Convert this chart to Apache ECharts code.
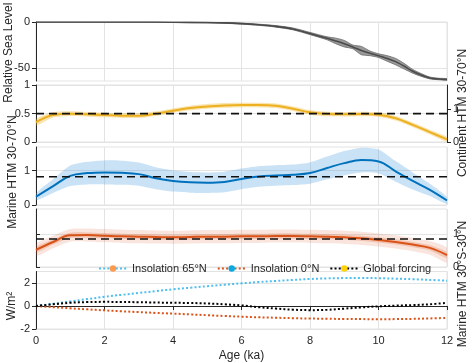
<!DOCTYPE html>
<html><head><meta charset="utf-8">
<script src="https://cdn.jsdelivr.net/npm/echarts@6/dist/echarts.min.js"></script>
<style>html,body{margin:0;padding:0;background:#fff}#c{width:474px;height:363px}</style>
</head><body><div id="c"></div>
<script>
// ---- data ----
const xTicks = [0, 2, 4, 6, 8, 10, 12];
const seaTicks = [-50, 0];
const contLeftTicks = [0, 0.5, 1];
const contTicks = [0, 1];
const marNTicks = [0, 1];
const marTTicks = [0, 1];
const forceTicks = [-2, 0, 2];

const seaAge = [0,1,2,3,4,5,5.5,6,6.5,7,7.5,8,8.5,8.75,9,9.25,9.5,9.75,10,10.25,10.5,10.75,11,11.25,11.5,11.75,12];
const seaLevel = [0,0,0,0,-0.2,-0.6,-1,-1.8,-3,-4.7,-7.5,-12.5,-17.7,-20.5,-23.5,-27,-31,-34,-36.5,-39.5,-43,-48,-53.5,-57.5,-60.7,-61.8,-62.3];
const seaUpper = [0.3,0.3,0.3,0.3,0.1,-0.2,-0.6,-1.3,-2.4,-3.9,-6.5,-11.3,-16.1,-17.5,-20,-25,-26.5,-31.5,-34.5,-36.5,-39.5,-45,-51.5,-56,-59.7,-61,-61.5];
const seaLower = [-0.3,-0.3,-0.3,-0.3,-0.5,-1,-1.4,-2.3,-3.6,-5.5,-8.5,-13.7,-19.3,-23.5,-27,-29,-35.5,-36.5,-38.5,-42.5,-46.5,-51,-55.5,-59,-61.7,-62.6,-63.1];

const age = [0,0.5,1,1.5,2,2.5,3,3.5,4,4.5,5,5.5,6,6.5,7,7.5,8,8.5,9,9.5,10,10.5,11,11.5,12];

const contHTM   = [0.6,0.82,0.86,0.84,0.82,0.8,0.8,0.86,0.95,1.03,1.08,1.11,1.12,1.12,1.1,1.01,0.9,0.85,0.84,0.85,0.83,0.72,0.52,0.3,0.08];
const contUpper = [0.7,0.9,0.93,0.91,0.89,0.87,0.87,0.93,1.02,1.1,1.15,1.18,1.19,1.19,1.17,1.08,0.97,0.92,0.91,0.92,0.9,0.79,0.59,0.37,0.15];
const contLower = [0.5,0.74,0.79,0.77,0.75,0.73,0.73,0.79,0.88,0.96,1.01,1.04,1.05,1.05,1.03,0.94,0.83,0.78,0.77,0.78,0.76,0.65,0.45,0.23,0.01];

const marN      = [0.24,0.55,0.85,0.93,0.95,0.94,0.9,0.78,0.7,0.66,0.65,0.67,0.76,0.83,0.86,0.88,0.93,1.08,1.22,1.31,1.27,0.98,0.7,0.44,0.13];
const marNUpper = [0.34,0.75,1.15,1.26,1.3,1.29,1.24,1.1,1.01,0.96,0.95,0.97,1.06,1.13,1.16,1.18,1.24,1.41,1.57,1.67,1.62,1.28,0.95,0.62,0.23];
const marNLower = [0.14,0.35,0.55,0.6,0.6,0.59,0.56,0.46,0.39,0.36,0.35,0.37,0.46,0.53,0.56,0.58,0.62,0.75,0.87,0.95,0.92,0.68,0.45,0.26,0.03];

const marT       = [0.52,0.76,0.96,0.97,0.95,0.93,0.92,0.91,0.9,0.91,0.92,0.92,0.93,0.93,0.94,0.94,0.93,0.92,0.9,0.87,0.82,0.76,0.68,0.58,0.36];
const marTIn_up  = [0.6,0.84,1.04,1.05,1.03,1.01,1.0,0.99,0.98,0.99,1.0,1.0,1.01,1.01,1.02,1.02,1.01,1.0,0.98,0.95,0.9,0.84,0.76,0.66,0.45];
const marTIn_lo  = [0.44,0.68,0.88,0.89,0.87,0.85,0.84,0.83,0.82,0.83,0.84,0.84,0.85,0.85,0.86,0.86,0.85,0.84,0.82,0.79,0.74,0.68,0.6,0.5,0.27];
const marTOut_up = [0.7,0.95,1.15,1.17,1.15,1.13,1.12,1.11,1.1,1.11,1.12,1.12,1.13,1.13,1.14,1.14,1.13,1.12,1.1,1.07,1.02,0.96,0.88,0.79,0.58];
const marTOut_lo = [0.34,0.57,0.77,0.77,0.75,0.73,0.72,0.71,0.7,0.71,0.72,0.72,0.73,0.73,0.74,0.74,0.73,0.72,0.7,0.67,0.62,0.56,0.48,0.37,0.14];

const refLevel = [0.86, 0.825, 0.85];  // dashed reference, continent / marine N / marine tropics

const ins65  = [0,0.2,0.4,0.6,0.8,0.97,1.13,1.3,1.45,1.59,1.72,1.85,1.97,2.08,2.18,2.27,2.35,2.4,2.43,2.44,2.42,2.38,2.33,2.27,2.2];
const ins0   = [0,-0.1,-0.2,-0.29,-0.38,-0.46,-0.53,-0.6,-0.66,-0.73,-0.8,-0.87,-0.93,-0.98,-1.02,-1.06,-1.09,-1.11,-1.13,-1.14,-1.15,-1.14,-1.12,-1.08,-1.04];
const globalF= [0,0.15,0.28,0.34,0.36,0.35,0.33,0.3,0.28,0.26,0.22,0.15,0.05,-0.1,-0.22,-0.32,-0.36,-0.33,-0.23,-0.12,-0.03,0.03,0.08,0.15,0.27];

// ---- chart ----
const FONT = 'Liberation Sans, Arial, Helvetica, sans-serif';
const TXT = '#262626';
const GRIDC = '#e3e3e3';
const zip = (xs, ys) => xs.map((x, i) => [x, ys[i]]);

const grids = [
  {top: 22, height: 59},
  {top: 85, height: 57},
  {top: 147, height: 58},
  {top: 209, height: 58},
  {top: 271.5, height: 58.5}
].map(g => Object.assign({left: 36, width: 411, show: true, borderColor: GRIDC, borderWidth: 1, containLabel: false}, g));

const xAxes = grids.map((g, i) => ({
  type: 'value', gridIndex: i, min: 0, max: 12,
  axisLine: {show: i === 4, lineStyle: {color: TXT, width: 1}},
  axisTick: {show: i === 4, inside: false, length: 4, customValues: xTicks, lineStyle: {color: TXT}},
  axisLabel: {show: i === 4, customValues: xTicks, color: TXT, fontSize: 11, fontFamily: FONT, margin: 6},
  splitLine: {show: true, lineStyle: {color: GRIDC, width: 1}},
  name: i === 4 ? 'Age (ka)' : '', nameLocation: 'middle', nameGap: 21,
  nameTextStyle: {color: TXT, fontSize: 12, fontFamily: FONT}
}));

function yAx(grid, pos, min, max, ticks, split) {
  return {
    type: 'value', gridIndex: grid, position: pos, min: min, max: max,
    axisLine: {show: true, lineStyle: {color: TXT, width: 1}},
    axisTick: {show: true, length: 4, customValues: ticks, lineStyle: {color: TXT}},
    axisLabel: {customValues: ticks, color: TXT, fontSize: 11, fontFamily: FONT, margin: 6},
    splitLine: {show: split, lineStyle: {color: GRIDC, width: 1}}
  };
}
const yAxes = [
  yAx(0, 'left', -64, 0, seaTicks, true),
  yAx(1, 'left', 0, 1, contLeftTicks, true),
  yAx(1, 'right', 0, 1.73, contTicks, false),
  yAx(2, 'left', 0, 1.69, marNTicks, true),
  yAx(3, 'right', 0, 1.76, marTTicks, true),
  yAx(4, 'left', -2, 3, forceTicks, true)
];

function band(xi, yi, xs, lo, hi, fill, stroke) {
  return {
    type: 'custom', xAxisIndex: xi, yAxisIndex: yi, silent: true, z: 1, clip: true,
    data: [[xs[0], lo[0]]],
    renderItem: function (params, api) {
      const pts = [];
      for (let i = 0; i < xs.length; i++) pts.push(api.coord([xs[i], hi[i]]));
      for (let i = xs.length - 1; i >= 0; i--) pts.push(api.coord([xs[i], lo[i]]));
      return {type: 'polygon', shape: {points: pts, smooth: 0.25},
        style: {fill: fill, stroke: stroke || null, lineWidth: stroke ? 0.8 : 0}};
    }
  };
}
function line(xi, yi, xs, ys, color, width, extra) {
  return Object.assign({
    type: 'line', xAxisIndex: xi, yAxisIndex: yi, data: zip(xs, ys),
    symbol: 'none', smooth: 0.4, silent: true, z: 3,
    lineStyle: {color: color, width: width}
  }, extra || {});
}
function refLine(xi, yi, v) {
  return {
    type: 'line', xAxisIndex: xi, yAxisIndex: yi, data: [[0, v], [12, v]],
    symbol: 'none', silent: true, z: 4,
    lineStyle: {color: '#111', width: 1.6, type: [8, 5]}
  };
}

const series = [
  band(0, 0, seaAge, seaLower, seaUpper, '#9a9a9a', '#666'),
  line(0, 0, seaAge, seaLevel, '#4a4a4a', 1.6, {smooth: 0.3}),

  band(1, 2, age, contLower, contUpper, 'rgba(237,177,32,0.35)'),
  line(1, 2, age, contHTM, '#EDB120', 2),
  refLine(1, 2, refLevel[0]),

  band(2, 3, age, marNLower, marNUpper, 'rgba(77,160,225,0.3)'),
  line(2, 3, age, marN, '#0072BD', 2),
  refLine(2, 3, refLevel[1]),

  band(3, 4, age, marTOut_lo, marTOut_up, 'rgba(217,83,25,0.15)'),
  band(3, 4, age, marTIn_lo, marTIn_up, 'rgba(217,83,25,0.22)'),
  line(3, 4, age, marT, '#D95319', 2),
  refLine(3, 4, refLevel[2]),

  line(4, 5, age, ins65, '#4DBEEE', 2, {name: 'Insolation 65°N', lineStyle: {color: '#4DBEEE', width: 2, type: [2, 2.2]}}),
  line(4, 5, age, ins0, '#D95319', 2, {name: 'Insolation 0°N', lineStyle: {color: '#D95319', width: 2, type: [2, 2.2]}}),
  line(4, 5, age, globalF, '#000', 2, {name: 'Global forcing', lineStyle: {color: '#000', width: 2, type: [2, 2.2]}})
];

const chart = echarts.init(document.getElementById('c'), null, {renderer: 'canvas'});
chart.setOption({
  animation: false,
  backgroundColor: '#fff',
  grid: grids,
  xAxis: xAxes,
  yAxis: yAxes,
  legend: {
    data: ['Insolation 65°N', 'Insolation 0°N', 'Global forcing'],
    left: 98, top: 263, itemWidth: 28, itemHeight: 8, itemGap: 10,
    textStyle: {color: TXT, fontSize: 11, fontFamily: FONT},
    selectedMode: false, padding: 0
  },
  graphic: [
    {type: 'text', x: 9, y: 42, rotation: Math.PI / 2, style: {text: 'Relative Sea Level (m)', fill: TXT, font: '12px ' + FONT, align: 'center', verticalAlign: 'middle'}},
    {type: 'text', x: 13, y: 172, rotation: Math.PI / 2, style: {text: 'Marine HTM 30-70°N', fill: TXT, font: '12px ' + FONT, align: 'center', verticalAlign: 'middle'}},
    {type: 'text', x: 12, y: 306, rotation: Math.PI / 2, style: {text: 'W/m²', fill: TXT, font: '12px ' + FONT, align: 'center', verticalAlign: 'middle'}},
    {type: 'text', x: 463, y: 113, rotation: Math.PI / 2, style: {text: 'Continent HTM 30-70°N', fill: TXT, font: '12px ' + FONT, align: 'center', verticalAlign: 'middle'}},
    {type: 'text', x: 463, y: 284, rotation: Math.PI / 2, style: {text: 'Marine HTM 30°S-30°N', fill: TXT, font: '12px ' + FONT, align: 'center', verticalAlign: 'middle'}}
  ],
  series: series
});
</script>
</body></html>
